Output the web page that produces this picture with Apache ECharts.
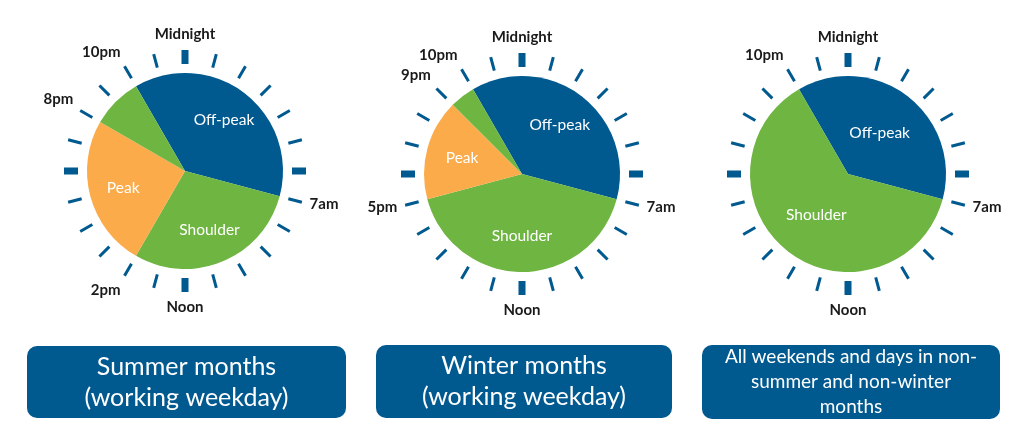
<!DOCTYPE html>
<html>
<head>
<meta charset="utf-8">
<script src="https://cdn.jsdelivr.net/npm/echarts@6/dist/echarts.min.js"></script>
<style>
html,body{margin:0;padding:0;background:#fff;}
#chart{width:1024px;height:445px;}
</style>
</head>
<body>
<div id="chart"></div>
<script>
// ---------- DATA ----------
// Summer months (working weekday), segments clockwise starting at 10pm
const summerNames = ['Off-peak', 'Shoulder', 'Peak', 'Shoulder'];
const summerHours = [9, 7, 6, 2];
const summerSliceLabels = ['Off-peak', 'Shoulder', 'Peak', ''];
const summerStartHour = 22;
const summerTickHours = [0, 7, 12, 14, 20, 22];
const summerTickLabels = ['Midnight', '7am', 'Noon', '2pm', '8pm', '10pm'];

// Winter months (working weekday)
const winterNames = ['Off-peak', 'Shoulder', 'Peak', 'Shoulder'];
const winterHours = [9, 10, 4, 1];
const winterSliceLabels = ['Off-peak', 'Shoulder', 'Peak', ''];
const winterStartHour = 22;
const winterTickHours = [0, 7, 12, 17, 21, 22];
const winterTickLabels = ['Midnight', '7am', 'Noon', '5pm', '9pm', '10pm'];

// All weekends and non-summer / non-winter days
const otherNames = ['Off-peak', 'Shoulder'];
const otherHours = [9, 15];
const otherSliceLabels = ['Off-peak', 'Shoulder'];
const otherStartHour = 22;
const otherTickHours = [0, 7, 12, 22];
const otherTickLabels = ['Midnight', '7am', 'Noon', '10pm'];

const boxLabels = [
  'Summer months\n(working weekday)',
  'Winter months\n(working weekday)',
  'All weekends and days in non-\nsummer and non-winter\nmonths'
];

// ---------- STYLE / LAYOUT ----------
const BLUE = '#00598f';
const colorMap = { 'Off-peak': BLUE, 'Shoulder': '#6fb542', 'Peak': '#fbab4a' };
const PIE_R = 98;
const TICK_R = 121;
const charts = [
  { names: summerNames, hours: summerHours, labels: summerSliceLabels, start: summerStartHour,
    tickHours: summerTickHours, tickLabels: summerTickLabels, center: [185, 171], labelR0: 24 },
  { names: winterNames, hours: winterHours, labels: winterSliceLabels, start: winterStartHour,
    tickHours: winterTickHours, tickLabels: winterTickLabels, center: [522, 174], labelR0: 20 },
  { names: otherNames, hours: otherHours, labels: otherSliceLabels, start: otherStartHour,
    tickHours: otherTickHours, tickLabels: otherTickLabels, center: [848, 174], labelR0: 0 }
];
const boxes = [
  { x: 27, y: 346, w: 319, h: 72, fontSize: 25, lineHeight: 31 },
  { x: 376, y: 345, w: 296, h: 73, fontSize: 25, lineHeight: 31 },
  { x: 702, y: 345, w: 298, h: 74, fontSize: 19, lineHeight: 25 }
];

const polar = [], angleAxis = [], radiusAxis = [], series = [];
charts.forEach((c, i) => {
  const startAngle = (((90 - c.start * 15) % 360) + 360) % 360;
  series.push({
    type: 'pie', center: c.center, radius: [0, PIE_R], startAngle: startAngle, clockwise: true,
    silent: true, animation: false, label: { show: false }, labelLine: { show: false },
    data: c.names.map((n, k) => ({ name: n, value: c.hours[k], itemStyle: { color: colorMap[n] } }))
  });
  series.push({
    type: 'pie', center: c.center, radius: [c.labelR0, PIE_R], startAngle: startAngle, clockwise: true,
    silent: true, animation: false, itemStyle: { color: 'rgba(0,0,0,0)' },
    label: { show: true, position: 'inside', color: '#ffffff', fontSize: 15.5, fontFamily: 'Lato',
      formatter: p => c.labels[p.dataIndex] },
    labelLine: { show: false },
    data: c.names.map((n, k) => ({ name: n, value: c.hours[k] }))
  });
  // minor ticks + labels
  polar.push({ center: c.center, radius: TICK_R });
  angleAxis.push({
    polarIndex: 2 * i, type: 'value', min: 0, max: 24, interval: 1, startAngle: 90, clockwise: true,
    axisLine: { show: false }, splitLine: { show: false }, splitArea: { show: false },
    axisTick: { show: true, inside: true, length: 14, lineStyle: { color: BLUE, width: 3 } },
    axisLabel: {
      show: true, margin: 8, color: '#1a1a1a', fontSize: 15, fontWeight: 'bold', fontFamily: 'Lato',
      formatter: v => { const k = c.tickHours.indexOf(v); return k >= 0 ? c.tickLabels[k] : ''; }
    }
  });
  radiusAxis.push({ polarIndex: 2 * i, show: false, min: 0, max: 1, splitLine: { show: false } });
  // major ticks
  polar.push({ center: c.center, radius: TICK_R });
  angleAxis.push({
    polarIndex: 2 * i + 1, type: 'value', min: 0, max: 24, interval: 6, startAngle: 90, clockwise: true,
    axisLine: { show: false }, splitLine: { show: false }, splitArea: { show: false },
    axisTick: { show: true, inside: true, length: 14, lineStyle: { color: BLUE, width: 7 } },
    axisLabel: { show: false }
  });
  radiusAxis.push({ polarIndex: 2 * i + 1, show: false, min: 0, max: 1, splitLine: { show: false } });
});

const graphic = boxes.map((b, i) => ({
  type: 'group',
  children: [
    { type: 'rect', shape: { x: b.x, y: b.y, width: b.w, height: b.h, r: 10 }, style: { fill: BLUE } },
    { type: 'text', style: {
        text: boxLabels[i], x: b.x + b.w / 2, y: b.y + b.h / 2,
        align: 'center', verticalAlign: 'middle', textAlign: 'center', textVerticalAlign: 'middle',
        fill: '#ffffff', fontSize: b.fontSize, lineHeight: b.lineHeight, fontFamily: 'Lato'
    } }
  ]
}));

const chart = echarts.init(document.getElementById('chart'), null, { renderer: 'canvas' });
chart.setOption({
  animation: false,
  backgroundColor: '#ffffff',
  polar: polar,
  angleAxis: angleAxis,
  radiusAxis: radiusAxis,
  series: series,
  graphic: graphic
});
</script>
</body>
</html>
